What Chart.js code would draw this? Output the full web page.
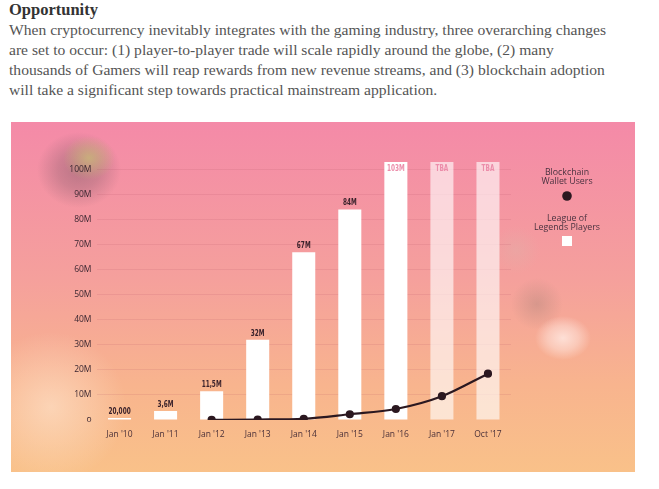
<!DOCTYPE html>
<html>
<head>
<meta charset="utf-8">
<script src="https://cdn.jsdelivr.net/npm/chart.js@4.4.0/dist/chart.umd.min.js"></script>
<style>
html, body { margin: 0; padding: 0; background: #fff; }
body { width: 659px; height: 489px; position: relative; overflow: hidden; }
#head { position: absolute; left: 9px; top: 0; width: 640px; font-family: "Liberation Serif", serif; color: #555; }
#head h3 { margin: 0; font-size: 16.5px; line-height: 20px; color: #333; font-weight: bold; }
#head p { margin: 0; font-size: 15.6px; line-height: 20px; white-space: nowrap; }
#box {
  position: absolute; left: 11px; top: 122px; width: 624px; height: 350px;
  background:
    radial-gradient(ellipse 26px 22px at 78px 36px, rgba(200,185,120,0.8) 0, rgba(200,185,120,0) 100%),
    radial-gradient(ellipse 42px 38px at 68px 48px, rgba(140,95,110,0.55) 0, rgba(140,95,110,0.35) 50%, rgba(140,95,110,0) 100%),
    radial-gradient(circle at 40px 285px, rgba(255,235,215,0.55) 0, rgba(255,235,215,0) 75px),
    radial-gradient(ellipse 28px 22px at 552px 216px, rgba(255,236,230,0.8) 0, rgba(255,236,230,0.45) 55%, rgba(255,236,230,0) 100%),
    radial-gradient(circle at 526px 182px, rgba(170,130,120,0.4) 0, rgba(170,130,120,0) 26px),
    radial-gradient(circle at 505px 128px, rgba(220,180,170,0.35) 0, rgba(220,180,170,0) 24px),
    linear-gradient(to bottom, #f48aa8 0%, #f5a09c 45%, #f8b48e 75%, #f9c189 100%);
}
#box canvas { position: absolute; left: 0; top: 0; }
</style>
</head>
<body>
<div id="head">
<h3>Opportunity</h3>
<p>When cryptocurrency inevitably integrates with the gaming industry, three overarching changes</p>
<p>are set to occur: (1) player-to-player trade will scale rapidly around the globe, (2) many</p>
<p>thousands of Gamers will reap rewards from new revenue streams, and (3) blockchain adoption</p>
<p>will take a significant step towards practical mainstream application.</p>
</div>
<div id="box"><canvas id="chart" width="624" height="350"></canvas></div>
<script>
/* ==========================================
DATA
========================================== */

const categories = ["Jan '10", "Jan '11", "Jan '12", "Jan '13", "Jan '14", "Jan '15", "Jan '16", "Jan '17", "Oct '17"];

// league of legends players, millions (TBA bars drawn at last known height)
const lolPlayers = [0.02, 3.6, 11.5, 32, 67, 84, 103, 103, 103];
const lolLabels = ["20,000", "3,6M", "11,5M", "32M", "67M", "84M", "103M", "TBA", "TBA"];

// blockchain wallet users, millions
const walletUsers = [null, null, 0.05, 0.2, 0.5, 2.3, 4.4, 9.5, 18.5];

const yTicks = [0, 10, 20, 30, 40, 50, 60, 70, 80, 90, 100];


/* ==========================================
PLUGINS
========================================== */

const condensed = "bold 8.5px 'DejaVu Sans'";

const barLabels = {
id: "barLabels",
afterDatasetsDraw(chart){
const ctx = chart.ctx;
const meta = chart.getDatasetMeta(1);
ctx.save();
ctx.font = condensed;
ctx.textAlign = "center";
ctx.textBaseline = "middle";
meta.data.forEach((bar, i) => {
const inside = lolPlayers[i] > 100;
ctx.fillStyle = inside ? "#ec8daa" : "#3a222b";
const y = inside ? bar.y + 7 : bar.y - 6.5;
ctx.save();
ctx.translate(bar.x, y);
ctx.scale(0.68, 1);
ctx.fillText(lolLabels[i], 0, 0);
ctx.restore();
});
ctx.restore();
}
};

const sideLegend = {
id: "sideLegend",
afterDraw(chart){
const ctx = chart.ctx;
const cx = 556;
ctx.save();
ctx.font = "8.8px 'Open Sans'";
ctx.fillStyle = "#4a3240";
ctx.textAlign = "center";
ctx.textBaseline = "middle";
ctx.fillText("Blockchain", cx, 50);
ctx.fillText("Wallet Users", cx, 59);
ctx.fillStyle = "#2b1820";
ctx.beginPath();
ctx.arc(cx, 74, 4.8, 0, Math.PI * 2);
ctx.fill();
ctx.fillStyle = "#4a3240";
ctx.fillText("League of", cx, 96);
ctx.fillText("Legends Players", cx, 105);
ctx.fillStyle = "#ffffff";
ctx.fillRect(cx - 5, 114, 10, 10);
ctx.restore();
}
};


/* ==========================================
CHART
========================================== */

new Chart(
document.getElementById("chart"),
{
type: "bar",
data: {
labels: categories,
datasets: [
{
type: "line",
label: "Blockchain Wallet Users",
data: walletUsers,
borderColor: "#2b1820",
backgroundColor: "#2b1820",
borderWidth: 2.2,
pointRadius: 3,
pointHoverRadius: 3,
cubicInterpolationMode: "monotone",
spanGaps: false,
order: 0
},
{
label: "League of Legends Players",
data: lolPlayers,
backgroundColor: lolLabels.map(l => l === "TBA" ? "rgba(255,255,255,0.62)" : "#ffffff"),
borderWidth: 0,
barPercentage: 0.5,
categoryPercentage: 1,
minBarLength: 2,
order: 1
}
]
},
options: {
responsive: false,
animation: false,
layout: {
padding: { top: 35, right: 124, left: 0, bottom: 0 }
},
plugins: {
legend: { display: false },
tooltip: { enabled: false }
},
scales: {
x: {
grid: { display: false, drawTicks: false },
border: { display: false },
ticks: {
padding: 9,
color: "#4a3038",
font: { family: "'Open Sans'", size: 8.5 }
},
afterFit(scale){ scale.height = 52; }
},
y: {
min: 0,
max: 105,
afterBuildTicks(scale){
scale.ticks = yTicks.map(v => ({ value: v }));
},
grid: {
drawTicks: false,
color: ctx => ctx.tick && ctx.tick.value === 0 ? "rgba(0,0,0,0)" : "rgba(170,70,90,0.13)"
},
border: { display: false },
ticks: {
padding: 5,
color: "#3a2630",
font: { family: "'Open Sans'", size: 8.5 },
callback: v => v === 0 ? "o" : v + "M"
},
afterFit(scale){ scale.width = 85.5; }
}
}
},
plugins: [barLabels, sideLegend]
}
);
</script>
</body>
</html>
